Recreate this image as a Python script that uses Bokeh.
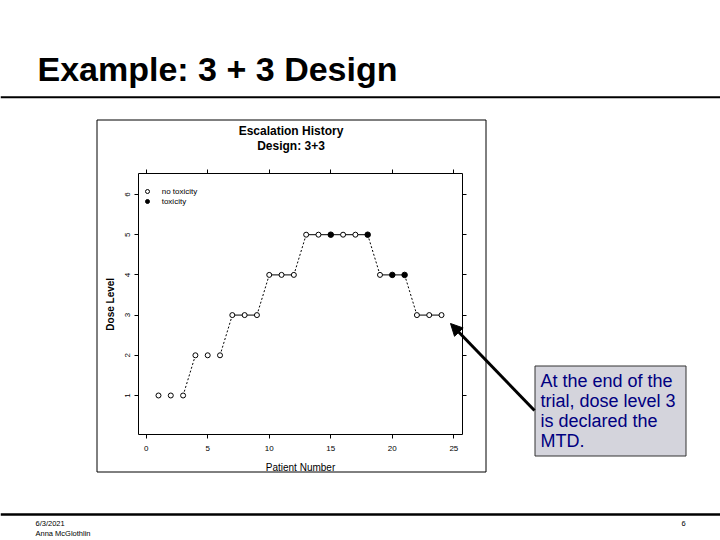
import math
from bokeh.plotting import figure
from bokeh.models import (Range1d, LinearAxis, FixedTicker, Label, Arrow, NormalHead,
                          PolyAnnotation, Legend, LegendItem, ColumnDataSource, Span)
from bokeh.embed import file_html
from bokeh.resources import INLINE

# ---------------- data ----------------
patients = list(range(1, 25))
dose_level = [1, 1, 1, 2, 2, 2, 3, 3, 3, 4, 4, 4, 5, 5, 5, 5, 5, 5, 4, 4, 4, 3, 3, 3]
toxicity = [0, 0, 0, 0, 0, 0, 0, 0, 0, 0, 0, 0, 0, 0, 1, 0, 0, 1, 0, 1, 1, 0, 0, 0]
# cohorts whose within-cohort connecting line is visible in the reference
cohort_line_drawn = [False, False, True, True, True, True, True, True]
x_ticks = [0, 5, 10, 15, 20, 25]
y_ticks = [1, 2, 3, 4, 5, 6]
x_limits = (-0.6, 25.68)
y_limits = (0.022, 6.515)

slide_title = "Example: 3 + 3 Design"
chart_title = ["Escalation History", "Design: 3+3"]
x_label = "Patient Number"
y_label = "Dose Level"
legend_labels = ["no toxicity", "toxicity"]
callout_lines = ["At the end of the", "trial, dose level 3", "is declared the", "MTD."]
footer_date = "6/3/2021"
footer_author = "Anna McGlothlin"
slide_number = "6"

FONT = "Liberation Sans"

# ---------------- page geometry (pixels) ----------------
W, H = 720, 540
CH_L, CH_R, CH_T, CH_B = 138.3, 461.7, 173.3, 434.3   # chart plot area on the page

kx = (x_limits[1] - x_limits[0]) / (CH_R - CH_L)
ky = (y_limits[1] - y_limits[0]) / (CH_B - CH_T)
x_range = Range1d(x_limits[0] - CH_L * kx, x_limits[1] + (W - CH_R) * kx)
y_range = Range1d(y_limits[0] - (H - CH_B) * ky, y_limits[1] + CH_T * ky)

def sx(px):
    return px

def sy(py):
    return H - py

# ---------------- segments from data ----------------
cohort = [(i // 3) for i in range(len(patients))]
solid = dict(x0=[], y0=[], x1=[], y1=[])
dashed = dict(x0=[], y0=[], x1=[], y1=[])
for i in range(len(patients) - 1):
    if dose_level[i] != dose_level[i + 1]:
        tgt = dashed
    elif cohort_line_drawn[cohort[i]]:
        tgt = solid
    else:
        continue
    tgt["x0"].append(patients[i]); tgt["y0"].append(dose_level[i])
    tgt["x1"].append(patients[i + 1]); tgt["y1"].append(dose_level[i + 1])

open_src = ColumnDataSource(dict(
    x=[p for p, t in zip(patients, toxicity) if t == 0],
    y=[d for d, t in zip(dose_level, toxicity) if t == 0]))
fill_src = ColumnDataSource(dict(
    x=[p for p, t in zip(patients, toxicity) if t == 1],
    y=[d for d, t in zip(dose_level, toxicity) if t == 1]))

p = figure(width=W, height=H, x_range=x_range, y_range=y_range,
           x_axis_location=None, y_axis_location=None,
           min_border=0, toolbar_location=None, output_backend="svg",
           background_fill_color="white", border_fill_color="white")
p.title.visible = False
p.outline_line_color = None
p.xgrid.visible = False
p.ygrid.visible = False

p.segment(x0="x0", y0="y0", x1="x1", y1="y1", source=ColumnDataSource(solid),
          line_color="black", line_width=1)
p.segment(x0="x0", y0="y0", x1="x1", y1="y1", source=ColumnDataSource(dashed),
          line_color="black", line_width=1, line_dash="2 2")
r_open = p.scatter("x", "y", source=open_src, marker="circle", size=5,
                   line_color="black", fill_color="white", line_width=1)
r_fill = p.scatter("x", "y", source=fill_src, marker="circle", size=5.5,
                   line_color="black", fill_color="black", line_width=1)

def make_axis(ticks, loc, bounds, show_labels=True, standoff=5):
    ax = LinearAxis(fixed_location=loc, bounds=bounds)
    ax.ticker = FixedTicker(ticks=ticks)
    ax.axis_line_color = "black"
    ax.major_tick_line_color = "black"
    ax.major_tick_out = 4
    ax.major_tick_in = 0
    ax.minor_tick_line_color = None
    ax.major_label_text_font = FONT
    ax.major_label_text_font_size = "8px"
    ax.major_label_text_color = "black"
    ax.major_label_standoff = standoff
    if not show_labels:
        ax.major_label_overrides = {t: "" for t in ticks}
    return ax

xb = make_axis(x_ticks, y_limits[0], x_limits, standoff=7)
p.add_layout(xb, "below")
yl = make_axis(y_ticks, x_limits[0], y_limits, standoff=5)
yl.major_label_orientation = "vertical"
p.add_layout(yl, "left")
xt = make_axis(x_ticks, y_limits[1], x_limits, show_labels=False)
p.add_layout(xt, "above")
yr = make_axis(y_ticks, x_limits[1], y_limits, show_labels=False)
p.add_layout(yr, "right")

legend = Legend(items=[LegendItem(label=legend_labels[0], renderers=[r_open]),
                       LegendItem(label=legend_labels[1], renderers=[r_fill])],
                location=(sx(141.7), sy(206)), border_line_color=None,
                background_fill_alpha=0, padding=0, margin=0, spacing=0,
                glyph_width=10, glyph_height=10, label_height=10, label_standoff=10,
                label_text_font=FONT, label_text_font_size="8px",
                label_text_baseline="middle", label_text_color="black")
p.add_layout(legend)

# ---------------- slide decorations ----------------
def label(text, px, py, size, style="normal", color="black", align="left",
          baseline="middle", angle=0):
    p.add_layout(Label(x=sx(px), y=sy(py), x_units="screen", y_units="screen", text=text,
                       text_font=FONT, text_font_size=size, text_font_style=style,
                       text_color=color, text_align=align, text_baseline=baseline,
                       angle=angle))

def box(px0, py0, px1, py1, fill=None, line="black", lw=1, level="underlay"):
    p.add_layout(PolyAnnotation(xs=[sx(px0), sx(px1), sx(px1), sx(px0)],
                                ys=[sy(py0), sy(py0), sy(py1), sy(py1)],
                                xs_units="screen", ys_units="screen",
                                fill_color=fill if fill else "white",
                                fill_alpha=1 if fill else 0,
                                line_color=line, line_alpha=1, line_width=lw,
                                level=level))

label(slide_title, 37, 68.5, "34px", style="bold")
p.add_layout(Span(location=sy(96.7), location_units="screen", dimension="width",
                  line_color="black", line_width=2))
p.add_layout(Span(location=sy(514), location_units="screen", dimension="width",
                  line_color="black", line_width=2.5))
label(footer_date, 35, 522.7, "7.5px")
label(footer_author, 35, 533.3, "7.5px")
label(slide_number, 681, 523, "7.5px")

box(96.5, 119.5, 485.5, 471.5)
label(chart_title[0], 290.5, 130.7, "12px", style="bold", align="center")
label(chart_title[1], 290.5, 145, "12px", style="bold", align="center")
label(x_label, 300, 466.7, "10px", align="center")
label(y_label, 110, (CH_T + CH_B) / 2, "10px", style="bold", align="center",
      angle=math.pi / 2)

box(534.5, 365.5, 685.5, 455.5, fill="#d4d4dc", line="#333333", lw=1)
for k, t in enumerate(callout_lines):
    label(t, 540, 380 + 20 * k, "18px", color="#000080")

p.add_layout(Arrow(x_start=sx(534), y_start=sy(410), x_end=sx(450), y_end=sy(323),
                   start_units="screen", end_units="screen",
                   end=NormalHead(size=12, fill_color="black", line_color="black"),
                   line_color="black", line_width=3))

open("out.html", "w").write(file_html(p, INLINE))
